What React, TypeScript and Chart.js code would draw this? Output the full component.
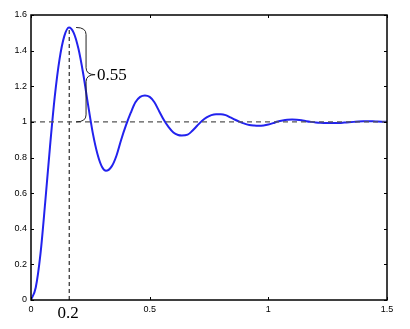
import React, { useEffect, useRef } from "react";
import { Chart, registerables } from "chart.js";

Chart.register(...registerables);

// Step response
const timeValues = [
  0, 0.02, 0.04, 0.06, 0.08, 0.1, 0.12, 0.14, 0.16, 0.18, 0.2, 0.22, 0.24, 0.26, 0.28, 0.3, 0.316,
  0.34, 0.36, 0.38, 0.4, 0.42, 0.44, 0.46, 0.48, 0.5, 0.52, 0.54, 0.56, 0.58, 0.6, 0.62, 0.635,
  0.66, 0.68, 0.7, 0.72, 0.74, 0.76, 0.78, 0.8, 0.82, 0.84, 0.86, 0.88, 0.9, 0.92, 0.94, 0.96,
  0.98, 1.0, 1.02, 1.04, 1.06, 1.08, 1.1, 1.12, 1.14, 1.16, 1.18, 1.2, 1.22, 1.24, 1.26, 1.28,
  1.3, 1.32, 1.34, 1.36, 1.38, 1.4, 1.42, 1.44, 1.46, 1.48, 1.5,
];
const responseValues = [
  0, 0.07, 0.26, 0.55, 0.86, 1.14, 1.35, 1.48, 1.53, 1.5, 1.41, 1.27, 1.1, 0.94, 0.82, 0.745, 0.725,
  0.75, 0.81, 0.9, 0.98, 1.05, 1.11, 1.14, 1.148, 1.14, 1.11, 1.06, 1.01, 0.97, 0.94, 0.926, 0.923,
  0.928, 0.95, 0.978, 1.005, 1.025, 1.038, 1.043, 1.043, 1.038, 1.025, 1.012, 1.0, 0.99, 0.982, 0.979, 0.978,
  0.98, 0.985, 0.993, 1.002, 1.008, 1.012, 1.013, 1.012, 1.009, 1.004, 1.0, 0.997, 0.995, 0.994, 0.993, 0.993,
  0.994, 0.996, 0.998, 1.0, 1.002, 1.003, 1.003, 1.003, 1.002, 1.001, 1.0,
];

const xTicks = [0, 0.5, 1, 1.5];
const yTicks = [0, 0.2, 0.4, 0.6, 0.8, 1, 1.2, 1.4, 1.6];

const steadyState = 1;
const peakTime = 0.161;
const peakValue = 1.53;
const overshootLabel = "0.55";
const peakTimeLabel = "0.2";
const braceLeftT = 0.19;
const braceMidT = 0.232;
const braceTipT = 0.27;

const fmt = (v: any) => String(Math.round(Number(v) * 10) / 10);

export default function App() {
  const ref = useRef<HTMLCanvasElement | null>(null);

  useEffect(() => {
    if (!ref.current) return;

    const framePlugin = {
      id: "frame",
      afterDatasetsDraw(chart: any) {
        const { ctx, chartArea, scales } = chart;
        const xs = scales.x;
        const ys = scales.y;
        ctx.save();
        ctx.strokeStyle = "#000";
        ctx.lineWidth = 1.5;
        ctx.strokeRect(chartArea.left, chartArea.top, chartArea.right - chartArea.left, chartArea.bottom - chartArea.top);
        ctx.lineWidth = 1;
        ctx.beginPath();
        for (const v of yTicks) {
          const py = Math.round(ys.getPixelForValue(v)) + 0.5;
          ctx.moveTo(chartArea.left, py);
          ctx.lineTo(chartArea.left + 3, py);
          ctx.moveTo(chartArea.right, py);
          ctx.lineTo(chartArea.right - 3, py);
        }
        for (const v of xTicks) {
          const px = Math.round(xs.getPixelForValue(v)) + 0.5;
          ctx.moveTo(px, chartArea.bottom);
          ctx.lineTo(px, chartArea.bottom - 3);
          ctx.moveTo(px, chartArea.top);
          ctx.lineTo(px, chartArea.top + 3);
        }
        ctx.stroke();

        const yTop = ys.getPixelForValue(peakValue);
        const yBot = ys.getPixelForValue(steadyState);
        const yMid = (yTop + yBot) / 2;
        const xl = xs.getPixelForValue(braceLeftT);
        const xm = xs.getPixelForValue(braceMidT);
        const xt = xs.getPixelForValue(braceTipT);
        const r = 7;
        ctx.strokeStyle = "#222";
        ctx.lineWidth = 1;
        ctx.beginPath();
        ctx.moveTo(xl, yTop);
        ctx.quadraticCurveTo(xm, yTop, xm, yTop + r);
        ctx.lineTo(xm, yMid - r);
        ctx.quadraticCurveTo(xm, yMid, xt, yMid);
        ctx.quadraticCurveTo(xm, yMid, xm, yMid + r);
        ctx.lineTo(xm, yBot - r);
        ctx.quadraticCurveTo(xm, yBot, xl, yBot);
        ctx.stroke();

        ctx.fillStyle = "#000";
        ctx.font = "17px 'Liberation Serif', 'DejaVu Serif', serif";
        ctx.textBaseline = "middle";
        ctx.textAlign = "left";
        ctx.fillText(overshootLabel, xt + 2, yMid + 1);
        ctx.textAlign = "center";
        ctx.fillText(peakTimeLabel, xs.getPixelForValue(peakTime) - 1, chartArea.bottom + 14);
        ctx.restore();
      },
    };

    const chart = new Chart(ref.current, {
      type: "line",
      data: {
        datasets: [
          {
            data: [
              { x: 0, y: steadyState },
              { x: 1.5, y: steadyState },
            ],
            borderColor: "#555",
            borderWidth: 1.2,
            borderDash: [5, 4],
            pointRadius: 0,
          },
          {
            data: [
              { x: peakTime, y: 0 },
              { x: peakTime, y: peakValue },
            ],
            borderColor: "#000",
            borderWidth: 1,
            borderDash: [4, 3],
            pointRadius: 0,
          },
          {
            data: timeValues.map((t, i) => ({ x: t, y: responseValues[i] })),
            borderColor: "#2222ee",
            borderWidth: 2,
            pointRadius: 0,
            cubicInterpolationMode: "monotone",
          },
        ],
      },
      options: {
        animation: false,
        responsive: false,
        maintainAspectRatio: false,
        layout: { padding: { top: 15, right: 23, left: 0, bottom: 0 } },
        plugins: { legend: { display: false }, tooltip: { enabled: false } },
        scales: {
          x: {
            type: "linear",
            min: 0,
            max: 1.5,
            grid: { display: false, drawTicks: false },
            border: { display: false },
            afterBuildTicks: (s: any) => {
              s.ticks = xTicks.map((v) => ({ value: v }));
            },
            afterFit: (s: any) => {
              s.height = 29;
            },
            ticks: {
              padding: 4,
              color: "#000",
              maxRotation: 0,
              callback: fmt,
              font: { family: "'Liberation Sans', Arial, sans-serif", size: 9 },
            },
          },
          y: {
            type: "linear",
            min: 0,
            max: 1.6,
            grid: { display: false, drawTicks: false },
            border: { display: false },
            afterBuildTicks: (s: any) => {
              s.ticks = yTicks.map((v) => ({ value: v }));
            },
            afterFit: (s: any) => {
              s.width = 31;
            },
            ticks: {
              padding: 4,
              color: "#000",
              callback: fmt,
              font: { family: "'Liberation Sans', Arial, sans-serif", size: 9 },
            },
          },
        },
      },
      plugins: [framePlugin],
    } as any);

    return () => chart.destroy();
  }, []);

  return (
    <div style={{ position: "fixed", left: 0, top: 0, width: 410, height: 329, background: "#fff" }}>
      <canvas ref={ref} width={410} height={329} style={{ width: 410, height: 329 }} />
    </div>
  );
}
